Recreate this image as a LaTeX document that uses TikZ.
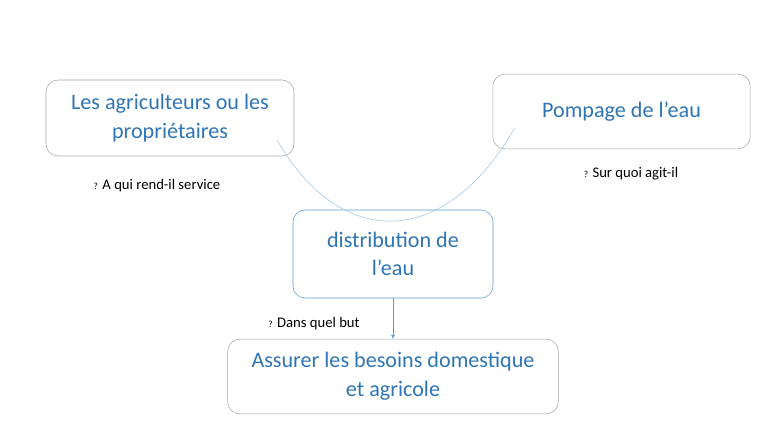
\documentclass[tikz,border=0pt]{standalone}
\usepackage{fontspec}
\setmainfont{Carlito}
\usetikzlibrary{calc,arrows.meta}
\definecolor{texte}{HTML}{2E75B6}
\definecolor{cadre}{HTML}{A6A6A6}
\definecolor{lien}{HTML}{5B9BD5}
\definecolor{courbe}{HTML}{9DC3E6}
\begin{document}
\begin{tikzpicture}[
    x=0.75pt, y=-0.75pt,
    boite/.style = {draw=cadre, rounded corners=9pt, text=texte, align=center,
                    font=\fontsize{16.6}{21.5}\selectfont, inner sep=0pt},
    question/.style = {font=\fontsize{11}{13}\selectfont, inner sep=1pt}
]
    \useasboundingbox (0,0) rectangle (768,433);

    % --- Les quatre boites ---
    \node[boite, minimum width=186pt, minimum height=57pt] (A) at (170,118)
        {Les agriculteurs ou les\\propriétaires};
    \node[boite, minimum width=193pt, minimum height=56pt] (B) at (621.5,111.5)
        {Pompage de l’eau};
    \node[boite, draw=lien, minimum width=150pt, minimum height=66pt] (C) at (393,254)
        {distribution de\\l’eau};
    \node[boite, minimum width=248pt, minimum height=56pt] (D) at (393,376.5)
        {Assurer les besoins domestique\\et agricole};

    % --- Les questions ---
    \node[question] (qA) at (157,186) {{\scriptsize ?} A qui rend-il service};
    \node[question] (qB) at (631,174) {{\scriptsize ?} Sur quoi agit-il};
    \node[question] (qC) at (314,324) {{\scriptsize ?} Dans quel but};

    % --- Liens ---
    \coordinate (a1) at ($(A.south east)+(-17,-16)$);
    \coordinate (b1) at ($(B.south west)+(22,-21)$);
    \draw[courbe, thin] (a1) .. controls (340,250) and (445,250) .. (b1);
    \draw[lien, thin, -{Latex[length=3pt,width=3pt]}] (C.south) -- (D.north);
\end{tikzpicture}
\end{document}
